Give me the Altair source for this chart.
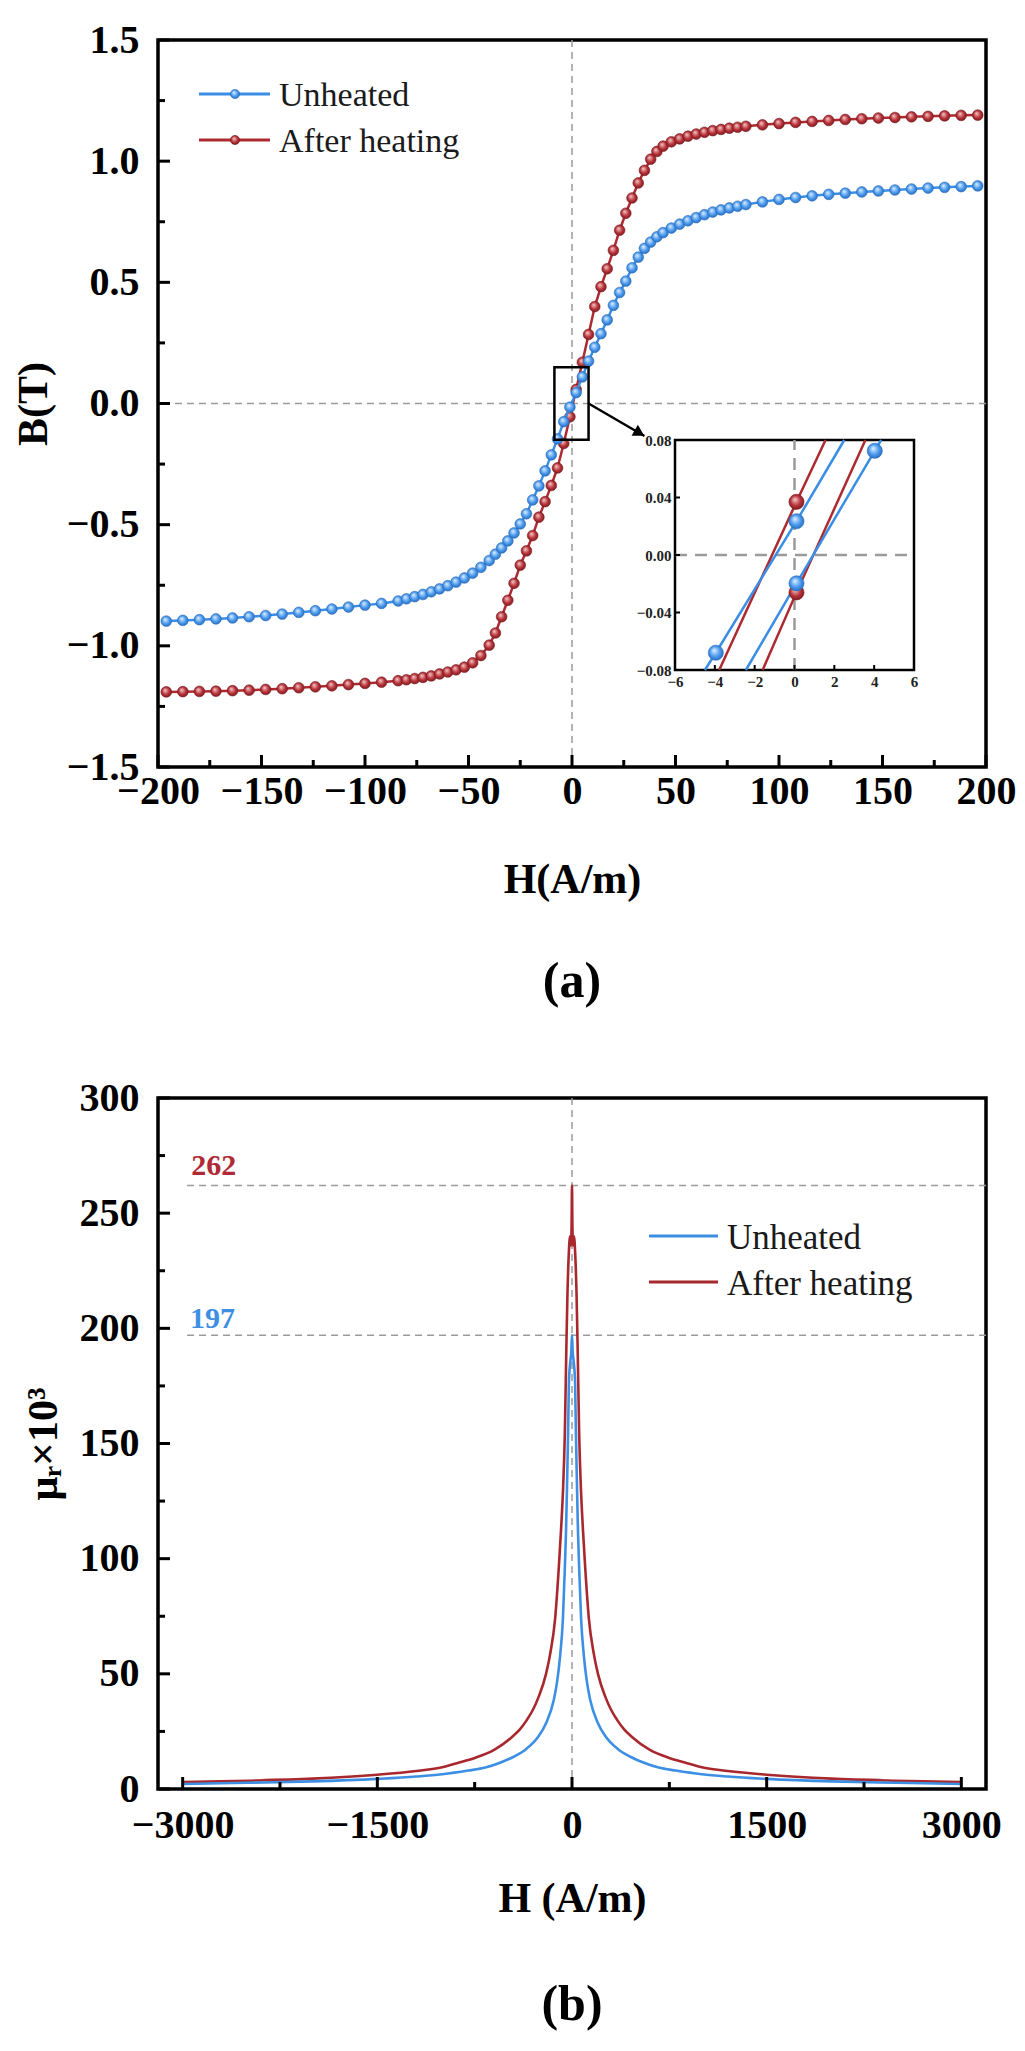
import altair as alt
import pandas as pd

FONT = "Liberation Serif"
BLUE = "#3a8ee6"
RED = "#ad2a30"
GRAY = "#9a9a9a"

# ---------------- Panel (a): B-H loop ----------------
H_loop = [-196, -188, -180, -172, -164, -156, -148, -140, -132, -124, -116, -108, -100, -92, -84,
          -80, -76, -72, -68, -64, -60, -56, -52, -48, -44, -40,
          -37, -34, -31, -28, -25, -22, -19, -16, -13, -10, -7, -4, -1,
          2, 5, 8, 11, 14, 17, 20, 23, 26, 29, 32, 35, 38,
          41, 44,
          48, 52, 56, 60, 64, 68, 72, 76, 80,
          84, 92, 100, 108, 116, 124, 132, 140, 148, 156, 164, 172, 180, 188, 196]
B_unheated = [-0.898, -0.895, -0.892, -0.889, -0.885, -0.880, -0.875, -0.869, -0.862, -0.855, -0.848, -0.840, -0.832, -0.825, -0.815,
              -0.806, -0.797, -0.788, -0.777, -0.765, -0.752, -0.737, -0.720, -0.700, -0.676, -0.648,
              -0.622, -0.596, -0.567, -0.534, -0.497, -0.455, -0.398, -0.340, -0.278, -0.212, -0.146, -0.075, -0.015,
              0.045, 0.110, 0.175, 0.232, 0.288, 0.345, 0.405, 0.458, 0.505, 0.560, 0.604, 0.640, 0.666,
              0.688, 0.705,
              0.724, 0.740, 0.754, 0.767, 0.779, 0.790, 0.799, 0.807, 0.814,
              0.821, 0.832, 0.842, 0.850, 0.857, 0.863, 0.868, 0.873, 0.877, 0.881, 0.885, 0.889, 0.892, 0.895, 0.898]
B_heated = [-1.190, -1.189, -1.188, -1.187, -1.185, -1.183, -1.180, -1.177, -1.173, -1.169, -1.165, -1.160, -1.155, -1.150, -1.144,
            -1.140, -1.135, -1.130, -1.124, -1.116, -1.108, -1.099, -1.088, -1.070, -1.040, -0.997,
            -0.947, -0.880, -0.812, -0.742, -0.667, -0.608, -0.545, -0.469, -0.405, -0.338, -0.266, -0.165, -0.055,
            0.058, 0.170, 0.285, 0.400, 0.482, 0.556, 0.632, 0.715, 0.785, 0.848, 0.910, 0.962, 1.008,
            1.040, 1.062,
            1.080, 1.092, 1.103, 1.112, 1.119, 1.126, 1.131, 1.136, 1.140,
            1.144, 1.150, 1.155, 1.160, 1.164, 1.168, 1.172, 1.175, 1.178, 1.180, 1.183, 1.185, 1.187, 1.189, 1.190]

# inset: the loop near the origin (two branches per sample)
inset_blue_desc_H = [-4.5, -3.95, 0.1, 2.5]
inset_blue_desc_B = [-0.08, -0.068, 0.0235, 0.08]
inset_blue_asc_H = [-2.44, 0.1, 4.03, 4.35]
inset_blue_asc_B = [-0.08, -0.0197, 0.0725, 0.08]
inset_red_desc_H = [-3.78, 0.1, 1.56]
inset_red_desc_B = [-0.08, 0.037, 0.08]
inset_red_asc_H = [-1.6, 0.1, 3.56]
inset_red_asc_B = [-0.08, -0.026, 0.08]
inset_blue_pts_H = [-3.95, 0.1, 0.1, 4.03]
inset_blue_pts_B = [-0.068, 0.0235, -0.0197, 0.0725]
inset_red_pts_H = [0.1, 0.1]
inset_red_pts_B = [0.037, -0.026]

# zoom box and arrow on the main loop
box_H = [-8.5, 8]
box_B = [-0.15, 0.15]
arrow_H = [8, 35]
arrow_B = [0.0, -0.134]

a_x_domain = [-200, 200]
a_y_domain = [-1.5, 1.5]
a_x_major = [-200, -150, -100, -50, 0, 50, 100, 150, 200]
a_x_minor = [-175, -125, -75, -25, 25, 75, 125, 175]
a_y_major = [-1.5, -1.0, -0.5, 0.0, 0.5, 1.0, 1.5]
a_y_minor = [-1.25, -0.75, -0.25, 0.25, 0.75, 1.25]
inset_x_domain = [-6, 6]
inset_y_domain = [-0.08, 0.08]
inset_x_ticks = [-6, -4, -2, 0, 2, 4, 6]
inset_y_ticks = [-0.08, -0.04, 0.0, 0.04, 0.08]

# ---------------- Panel (b): relative permeability ----------------
H_mu_heated = [-3000, -2500, -2000, -1500, -1200, -1000, -870, -750, -600, -462, -400, -350, -300, -257,
               -200, -167, -130, -103, -85, -67, -55, -44, -35, -25, -15, -8, -3, 0,
               3, 8, 15, 25, 35, 44, 55, 67, 85, 103, 130, 167, 200,
               257, 300, 350, 400, 462, 600, 750, 870, 1000, 1200, 1500, 2000, 2500, 3000]
mu_heated = [3.0, 3.6, 4.5, 6.2, 7.8, 9.4, 11.5, 13.5, 17.0, 22.6, 26.0, 29.8, 34.5, 40.0,
             50.0, 59.0, 74.0, 95.0, 112.0, 133.0, 155.0, 190.0, 215.0, 232.0, 240.0, 236.0, 245.0, 262.0,
             245.0, 236.0, 240.0, 232.0, 215.0, 190.0, 155.0, 133.0, 112.0, 95.0, 74.0, 59.0, 50.0,
             40.0, 34.5, 29.8, 26.0, 22.6, 17.0, 13.5, 11.5, 9.4, 7.8, 6.2, 4.5, 3.6, 3.0]
H_mu_unheated = [-3000, -2500, -2000, -1500, -1200, -1000, -800, -668, -550, -450, -350, -262, -200, -141,
                 -115, -92, -70, -56, -46, -38, -30, -23, -12, -5, 0, 5, 12, 23, 30, 38, 46, 56, 70, 92,
                 115, 141, 200, 262, 350, 450, 550, 668, 800, 1000, 1200, 1500, 2000, 2500, 3000]
mu_unheated = [2.2, 2.7, 3.3, 4.4, 5.4, 6.4, 8.0, 9.3, 11.5, 14.0, 17.5, 22.6, 28.5, 38.5,
               46.5, 57.5, 74.0, 94.8, 112.0, 132.8, 155.0, 178.0, 186.0, 190.0, 197.0, 190.0, 186.0, 178.0,
               155.0, 132.8, 112.0, 94.8, 74.0, 57.5, 46.5, 38.5, 28.5, 22.6, 17.5, 14.0, 11.5, 9.3, 8.0,
               6.4, 5.4, 4.4, 3.3, 2.7, 2.2]
peak_values = [262, 197]
peak_labels = ["262", "197"]
peak_label_H = [-2760, -2770]
peak_label_mu = [270.3, 204.2]
peak_line_start = -2966

b_x_domain = [-3190, 3190]
b_y_domain = [0, 300]
b_x_major = [-3000, -1500, 0, 1500, 3000]
b_x_minor = [-2250, -750, 750, 2250]
b_y_major = [0, 50, 100, 150, 200, 250, 300]
b_y_minor = [25, 75, 125, 175, 225, 275]

series_names = ["Unheated", "After heating"]

# ---------------- helpers ----------------
W = 828
HA = 727
HB = 691


def xaxis(values, fmt, title, title_y, pad):
    return alt.Axis(orient="bottom", values=values, format=fmt, title=title,
                    labelFont=FONT, labelFontWeight="bold", labelFontSize=40, labelColor="black",
                    labelPadding=pad, labelBaseline="middle", labelFlush=False, labelOverlap=False,
                    ticks=False, domain=False, grid=False,
                    titleFont=FONT, titleFontWeight="bold", titleFontSize=42, titleColor="black",
                    titleY=title_y, titleBaseline="middle")


def yaxis(values, fmt, title, title_x, height):
    return alt.Axis(orient="left", values=values, format=fmt, title=title,
                    labelFont=FONT, labelFontWeight="bold", labelFontSize=40, labelColor="black",
                    labelPadding=19, labelFlush=False, labelOverlap=False,
                    ticks=False, domain=False, grid=False,
                    titleFont=FONT, titleFontWeight="bold", titleFontSize=42, titleColor="black",
                    titleX=title_x, titleY=height / 2, titleAngle=270, titleBaseline="middle",
                    titleAlign="center")


def sphere(light, mid, dark):
    return alt.RadialGradient(gradient="radial",
                              stops=[alt.GradientStop(color=light, offset=0),
                                     alt.GradientStop(color=mid, offset=0.55),
                                     alt.GradientStop(color=dark, offset=1)],
                              x1=0.38, y1=0.33, x2=0.5, y2=0.5, r1=0, r2=0.6)


BLUE_SPHERE = sphere("#e6f2ff", "#4b9bee", "#1f5fae")
RED_SPHERE = sphere("#f6cfcf", "#b8333a", "#6e1418")


class Enc:
    """Shared x/y encodings so every layer carries the identical axis definition."""

    def __init__(self, xscale, xaxis_, yscale, yaxis_):
        self.xs, self.xa, self.ys, self.ya = xscale, xaxis_, yscale, yaxis_

    def x(self, f):
        return alt.X(f, scale=self.xs, axis=self.xa)

    def y(self, f):
        return alt.Y(f, scale=self.ys, axis=self.ya)


def inward_ticks(values, enc, channel, length, height):
    df = pd.DataFrame({"v": values})
    if channel == "x":
        return alt.Chart(df).mark_rule(color="black", strokeWidth=3).encode(
            x=enc.x("v:Q"), y=alt.value(height), y2=alt.value(height - length))
    return alt.Chart(df).mark_rule(color="black", strokeWidth=3).encode(
        y=enc.y("v:Q"), x=alt.value(0), x2=alt.value(length))


# ---------------- Panel (a) ----------------
xa = alt.Scale(domain=a_x_domain, nice=False, zero=False)
ya = alt.Scale(domain=a_y_domain, nice=False, zero=False)
EA = Enc(xa, xaxis(a_x_major, "d", "H(A/m)", 112, 24), ya, yaxis(a_y_major, ".1f", "B(T)", -125, HA))

loop_blue = pd.DataFrame({"H": H_loop, "B": B_unheated})
loop_red = pd.DataFrame({"H": H_loop, "B": B_heated})

zero_h_a = alt.Chart(pd.DataFrame({"B": [0]})).mark_rule(
    color=GRAY, strokeDash=[7, 5], strokeWidth=1.5).encode(y=EA.y("B:Q"))
zero_v_a = alt.Chart(pd.DataFrame({"H": [0]})).mark_rule(
    color=GRAY, strokeDash=[7, 5], strokeWidth=1.5).encode(x=EA.x("H:Q"))

MS = 115
line_red_a = alt.Chart(loop_red).mark_line(color=RED, strokeWidth=2.5).encode(x=EA.x("H:Q"), y=EA.y("B:Q"))
pts_red_a = alt.Chart(loop_red).mark_circle(fill=RED_SPHERE, size=MS, opacity=1,
                                            stroke="#7a1a1e", strokeWidth=0.6).encode(x=EA.x("H:Q"), y=EA.y("B:Q"))
line_blue_a = alt.Chart(loop_blue).mark_line(color=BLUE, strokeWidth=2.5).encode(x=EA.x("H:Q"), y=EA.y("B:Q"))
pts_blue_a = alt.Chart(loop_blue).mark_circle(fill=BLUE_SPHERE, size=MS, opacity=1,
                                              stroke="#2a6cc0", strokeWidth=0.6).encode(x=EA.x("H:Q"), y=EA.y("B:Q"))

box_df = pd.DataFrame({"H": [box_H[0]], "H2": [box_H[1]], "B": [box_B[0]], "B2": [box_B[1]]})
zoom_box = alt.Chart(box_df).mark_rect(filled=False, stroke="black", strokeWidth=2.5).encode(
    x=EA.x("H:Q"), x2="H2:Q", y=EA.y("B:Q"), y2="B2:Q")
arrow_df = pd.DataFrame({"H": [arrow_H[0]], "H2": [arrow_H[1]], "B": [arrow_B[0]], "B2": [arrow_B[1]]})
arrow_line = alt.Chart(arrow_df).mark_rule(color="black", strokeWidth=2.5).encode(
    x=EA.x("H:Q"), x2="H2:Q", y=EA.y("B:Q"), y2="B2:Q")
arrow_head = alt.Chart(pd.DataFrame({"H": [arrow_H[1]], "B": [arrow_B[1]]})).mark_point(
    shape="triangle-right", angle=30, size=160, filled=True, color="black", opacity=1,
    xOffset=-5, yOffset=-3).encode(x=EA.x("H:Q"), y=EA.y("B:Q"))

# legend (a)
leg_a = []
for i, (name, col, grad, stk) in enumerate([(series_names[0], BLUE, BLUE_SPHERE, "#2a6cc0"),
                                             (series_names[1], RED, RED_SPHERE, "#7a1a1e")]):
    ypix = 54 + 46 * i
    d = pd.DataFrame({"label": [name]})
    leg_a.append(alt.Chart(d).mark_rule(color=col, strokeWidth=3).encode(
        x=alt.value(41), x2=alt.value(112), y=alt.value(ypix)))
    leg_a.append(alt.Chart(d).mark_circle(fill=grad, size=85, opacity=1, stroke=stk, strokeWidth=0.6).encode(
        x=alt.value(77), y=alt.value(ypix)))
    leg_a.append(alt.Chart(d).mark_text(font=FONT, fontSize=34, align="left", baseline="middle",
                                        color="#1a1a1a").encode(
        x=alt.value(121), y=alt.value(ypix + 2), text="label:N"))

ticks_a = [inward_ticks(a_x_major, EA, "x", 12, HA), inward_ticks(a_x_minor, EA, "x", 7, HA),
           inward_ticks(a_y_major, EA, "y", 12, HA), inward_ticks(a_y_minor, EA, "y", 7, HA)]

label_a = alt.Chart(pd.DataFrame({"t": ["(a)"]})).mark_text(
    font=FONT, fontWeight="bold", fontSize=50, baseline="middle", align="center", color="black").encode(
    x=alt.value(W / 2), y=alt.value(942), text="t:N")

main_a = alt.layer(zero_h_a, zero_v_a, line_red_a, pts_red_a, line_blue_a, pts_blue_a,
                   zoom_box, arrow_line, arrow_head, *leg_a, *ticks_a, label_a)

# inset
xi = alt.Scale(domain=inset_x_domain, range=[517, 756], nice=False, zero=False)
yi = alt.Scale(domain=inset_y_domain, range=[630, 400], nice=False, zero=False)
ax_i_x = alt.Axis(orient="bottom", offset=-(HA - 630), values=inset_x_ticks, format="d", title=None,
                  labelFont=FONT, labelFontWeight="bold", labelFontSize=15, labelColor="#222",
                  labelPadding=4, labelFlush=False, labelOverlap=False, ticks=False, domain=False, grid=False)
ax_i_y = alt.Axis(orient="left", offset=-517, values=inset_y_ticks, format=".2f", title=None,
                  labelFont=FONT, labelFontWeight="bold", labelFontSize=15, labelColor="#222",
                  labelPadding=4, labelFlush=False, labelOverlap=False, ticks=False, domain=False, grid=False)
EI = Enc(xi, ax_i_x, yi, ax_i_y)

inset_frame_df = pd.DataFrame({"H": [inset_x_domain[0]], "H2": [inset_x_domain[1]],
                               "B": [inset_y_domain[0]], "B2": [inset_y_domain[1]]})
inset_bg = alt.Chart(inset_frame_df).mark_rect(fill="white", stroke="black", strokeWidth=2.5).encode(
    x=EI.x("H:Q"), x2="H2:Q", y=EI.y("B:Q"), y2="B2:Q")
inset_zero_h = alt.Chart(pd.DataFrame({"B": [0], "H": [inset_x_domain[0]], "H2": [inset_x_domain[1]]})).mark_rule(
    color=GRAY, strokeDash=[12, 8], strokeWidth=2.5).encode(x=EI.x("H:Q"), x2="H2:Q", y=EI.y("B:Q"))
inset_zero_v = alt.Chart(pd.DataFrame({"H": [0], "B": [inset_y_domain[0]], "B2": [inset_y_domain[1]]})).mark_rule(
    color=GRAY, strokeDash=[12, 8], strokeWidth=2.5).encode(x=EI.x("H:Q"), y=EI.y("B:Q"), y2="B2:Q")


def branch_df(hs, bs, name):
    return pd.DataFrame({"H": hs, "B": bs, "branch": name})


inset_red_lines = pd.concat([branch_df(inset_red_desc_H, inset_red_desc_B, "d"),
                             branch_df(inset_red_asc_H, inset_red_asc_B, "a")])
inset_blue_lines = pd.concat([branch_df(inset_blue_desc_H, inset_blue_desc_B, "d"),
                              branch_df(inset_blue_asc_H, inset_blue_asc_B, "a")])
in_red_line = alt.Chart(inset_red_lines).mark_line(color=RED, strokeWidth=2.5).encode(
    x=EI.x("H:Q"), y=EI.y("B:Q"), detail="branch:N")
in_blue_line = alt.Chart(inset_blue_lines).mark_line(color=BLUE, strokeWidth=2.5).encode(
    x=EI.x("H:Q"), y=EI.y("B:Q"), detail="branch:N")
in_red_pts = alt.Chart(pd.DataFrame({"H": inset_red_pts_H, "B": inset_red_pts_B})).mark_circle(
    fill=RED_SPHERE, size=230, opacity=1, stroke="#7a1a1e", strokeWidth=0.6).encode(x=EI.x("H:Q"), y=EI.y("B:Q"))
in_blue_pts = alt.Chart(pd.DataFrame({"H": inset_blue_pts_H, "B": inset_blue_pts_B})).mark_circle(
    fill=BLUE_SPHERE, size=230, opacity=1, stroke="#2a6cc0", strokeWidth=0.6).encode(x=EI.x("H:Q"), y=EI.y("B:Q"))
in_ticks_x = alt.Chart(pd.DataFrame({"H": inset_x_ticks[1:-1]})).mark_rule(color="black", strokeWidth=2).encode(
    x=EI.x("H:Q"), y=alt.value(630), y2=alt.value(625))
in_ticks_y = alt.Chart(pd.DataFrame({"B": inset_y_ticks[1:-1]})).mark_rule(color="black", strokeWidth=2).encode(
    y=EI.y("B:Q"), x=alt.value(517), x2=alt.value(522))

inset = alt.layer(inset_bg, inset_zero_h, inset_zero_v, in_red_line, in_blue_line,
                  in_red_pts, in_blue_pts, in_ticks_x, in_ticks_y)

panel_a = alt.layer(main_a, inset).resolve_scale(x="independent", y="independent").properties(
    width=W, height=HA)

# ---------------- Panel (b) ----------------
xb = alt.Scale(domain=b_x_domain, nice=False, zero=False)
yb = alt.Scale(domain=b_y_domain, nice=False, zero=False)
EB = Enc(xb, xaxis(b_x_major, "d", "H (A/m)", 109, 36), yb, yaxis(b_y_major, "d", "μᵣ×10³", -115, HB))

mu_red = pd.DataFrame({"H": H_mu_heated, "mu": mu_heated})
mu_blue = pd.DataFrame({"H": H_mu_unheated, "mu": mu_unheated})

zero_v_b = alt.Chart(pd.DataFrame({"H": [0]})).mark_rule(
    color=GRAY, strokeDash=[7, 5], strokeWidth=1.5).encode(x=EB.x("H:Q"))
peak_df = pd.DataFrame({"mu": peak_values, "H": [peak_line_start] * 2, "H2": [b_x_domain[1]] * 2})
peak_lines = alt.Chart(peak_df).mark_rule(color=GRAY, strokeDash=[7, 5], strokeWidth=1.5).encode(
    x=EB.x("H:Q"), x2="H2:Q", y=EB.y("mu:Q"))

line_red_b = alt.Chart(mu_red).mark_line(color="#a8282e", strokeWidth=2.6, interpolate="monotone").encode(
    x=EB.x("H:Q"), y=EB.y("mu:Q"))
line_blue_b = alt.Chart(mu_blue).mark_line(color="#3d8fe4", strokeWidth=2.6, interpolate="monotone").encode(
    x=EB.x("H:Q"), y=EB.y("mu:Q"))

ann = []
for lab, hx, my, col in zip(peak_labels, peak_label_H, peak_label_mu, ["#b02a35", "#3d8fe4"]):
    ann.append(alt.Chart(pd.DataFrame({"H": [hx], "mu": [my], "t": [lab]})).mark_text(
        font=FONT, fontWeight="bold", fontSize=30, color=col, align="center", baseline="middle").encode(
        x=EB.x("H:Q"), y=EB.y("mu:Q"), text="t:N"))

leg_b = []
for i, (name, col) in enumerate([(series_names[0], "#3d8fe4"), (series_names[1], "#a8282e")]):
    ypix = 138 + 46 * i
    d = pd.DataFrame({"label": [name]})
    leg_b.append(alt.Chart(d).mark_rule(color=col, strokeWidth=3).encode(
        x=alt.value(491), x2=alt.value(560), y=alt.value(ypix)))
    leg_b.append(alt.Chart(d).mark_text(font=FONT, fontSize=35, align="left", baseline="middle",
                                        color="#1a1a1a").encode(
        x=alt.value(569), y=alt.value(ypix + 2), text="label:N"))

ticks_b = [inward_ticks(b_x_major, EB, "x", 12, HB), inward_ticks(b_x_minor, EB, "x", 7, HB),
           inward_ticks(b_y_major, EB, "y", 12, HB), inward_ticks(b_y_minor, EB, "y", 7, HB)]

label_b = alt.Chart(pd.DataFrame({"t": ["(b)"]})).mark_text(
    font=FONT, fontWeight="bold", fontSize=50, baseline="middle", align="center", color="black").encode(
    x=alt.value(W / 2), y=alt.value(907), text="t:N")

panel_b = alt.layer(zero_v_b, peak_lines, line_red_b, line_blue_b, *ann, *leg_b, *ticks_b, label_b).properties(
    width=W, height=HB)

chart = alt.vconcat(panel_a, panel_b, spacing=67).properties(
    padding={"left": 10, "top": 18, "right": 0, "bottom": 0}
).configure_view(stroke="black", strokeWidth=3.5)

chart.save("out.html", embed_options={"renderer": "svg", "actions": False})
